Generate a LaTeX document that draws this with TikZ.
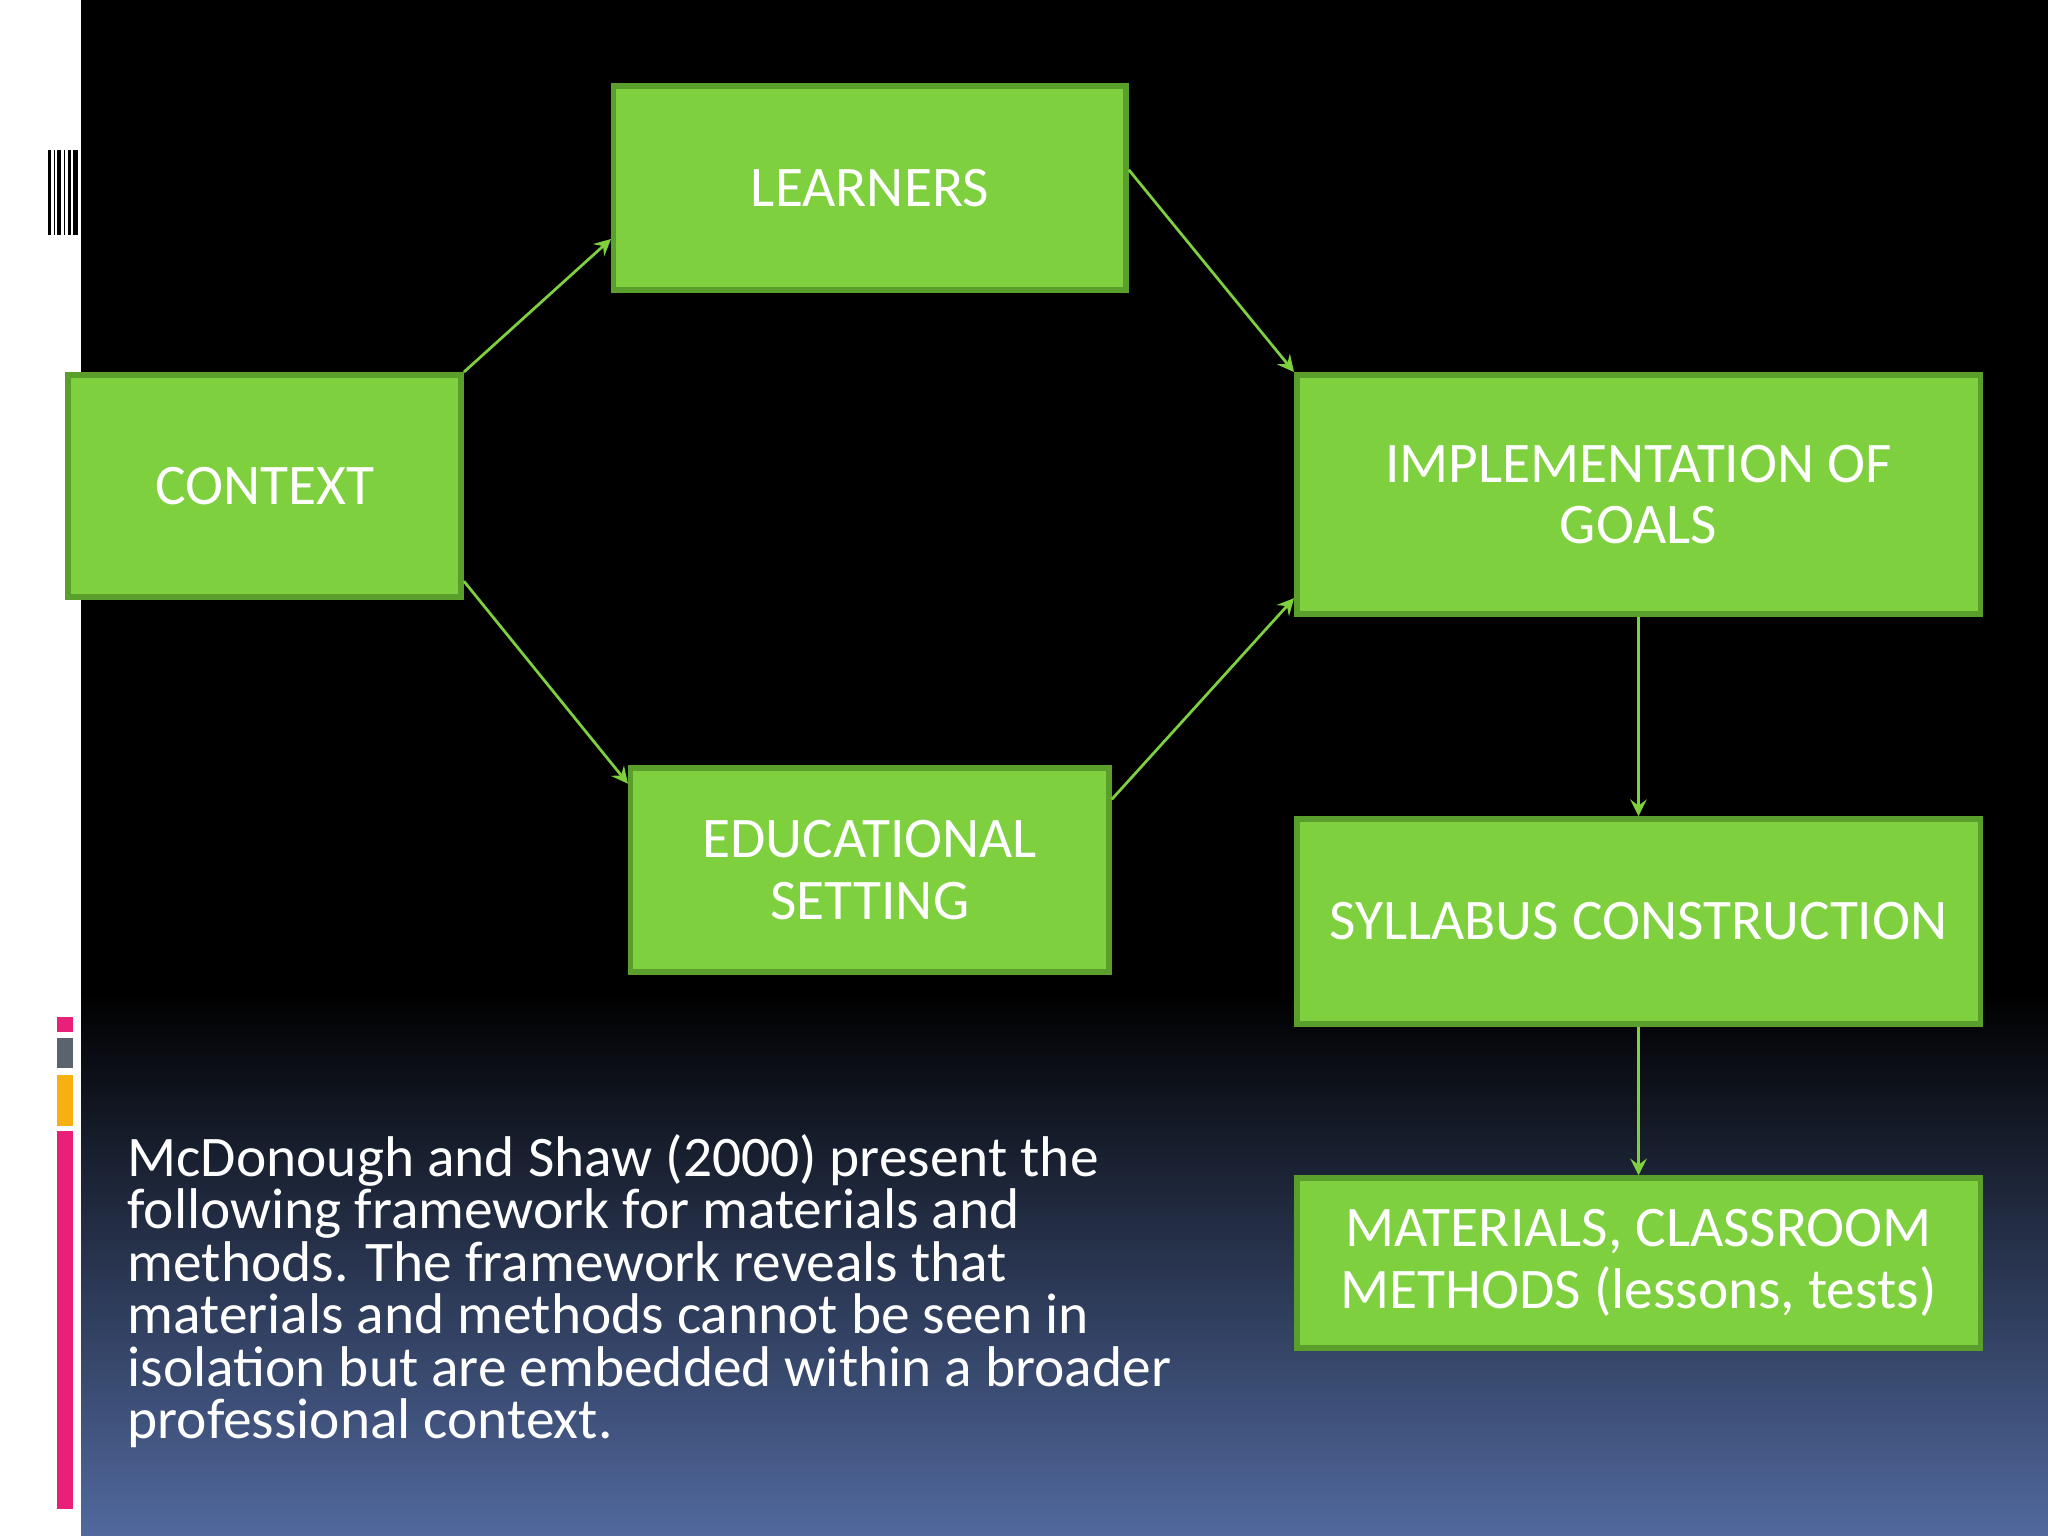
\documentclass[tikz,border=0pt]{standalone}
\usepackage{xcolor}
\usepackage{fontspec}
\setmainfont{Carlito}
\usetikzlibrary{positioning}
\definecolor{boxgreen}{HTML}{7ED03F}
\definecolor{edgegreen}{HTML}{5A9E2C}
\definecolor{deepblue}{HTML}{51699E}
\definecolor{barpink}{HTML}{E8207A}
\definecolor{bargrey}{HTML}{5C6370}
\definecolor{barorange}{HTML}{F7B012}
\tikzset{
  stage/.style={rectangle, draw=edgegreen, line width=1.2pt, fill=boxgreen, text=white,
    font=\fontsize{12.5}{13.4}\selectfont, align=center, inner sep=0pt},
  link/.style={draw=boxgreen, line width=0.6pt, -stealth}
}
\begin{document}
\begin{tikzpicture}[x=0.01cm,y=-0.01cm]
\useasboundingbox (0,0) rectangle (1568,1176);
\fill[black] (0,0) rectangle (1568,760);
\shade[top color=black, bottom color=deepblue] (0,760) rectangle (1568,1176);
\fill[white] (0,0) rectangle (62,1176);
% barcode
\foreach \x/\w in {37/2,41/1,44/3,49/1,52/2,56/4}
  \fill[black] (\x,115) rectangle (\x+\w,180);
% side bars
\fill[barpink] (44,779) rectangle (56,790);
\fill[bargrey] (44,795) rectangle (56,818);
\fill[barorange] (44,823) rectangle (56,862);
\fill[barpink] (44,866) rectangle (56,1155);
% boxes
\node at (666,144) [stage, minimum width=3.92cm, minimum height=1.56cm] (learners) {LEARNERS};
\node at (202.5,372) [stage, minimum width=3.01cm, minimum height=1.70cm] (context) {CONTEXT};
\node at (1254.5,378.5) [stage, minimum width=5.23cm, minimum height=1.83cm] (goals) {IMPLEMENTATION OF\\GOALS};
\node at (666,666) [stage, minimum width=3.66cm, minimum height=1.56cm] (setting) {EDUCATIONAL\\SETTING};
\node at (1254.5,705.5) [stage, minimum width=5.23cm, minimum height=1.57cm] (syllabus) {SYLLABUS CONSTRUCTION};
\node at (1254.5,967) [stage, minimum width=5.23cm, minimum height=1.30cm] (materials) {MATERIALS, CLASSROOM\\METHODS (lessons, tests)};
% arrows
\draw[link] (context.north east) -- (learners.west |- 0,183);
\draw[link] (learners.east |- 0,130) -- (goals.north west);
\draw[link] (context.east |- 0,445) -- (setting.north west |- 0,600);
\draw[link] (setting.east |- 0,612) -- (goals.west |- 0,458);
\draw[link] (goals) -- (syllabus);
\draw[link] (syllabus) -- (materials);
% caption
\node[anchor=north west, text=white, align=left, inner sep=0pt,
  font=\fontsize{12.5}{11.4}\selectfont] (note) at (97,868)
  {McDonough and Shaw (2000) present the\\following framework for materials and\\methods. The framework reveals that\\materials and methods cannot be seen in\\isolation but are embedded within a broader\\professional context.};
\end{tikzpicture}
\end{document}
